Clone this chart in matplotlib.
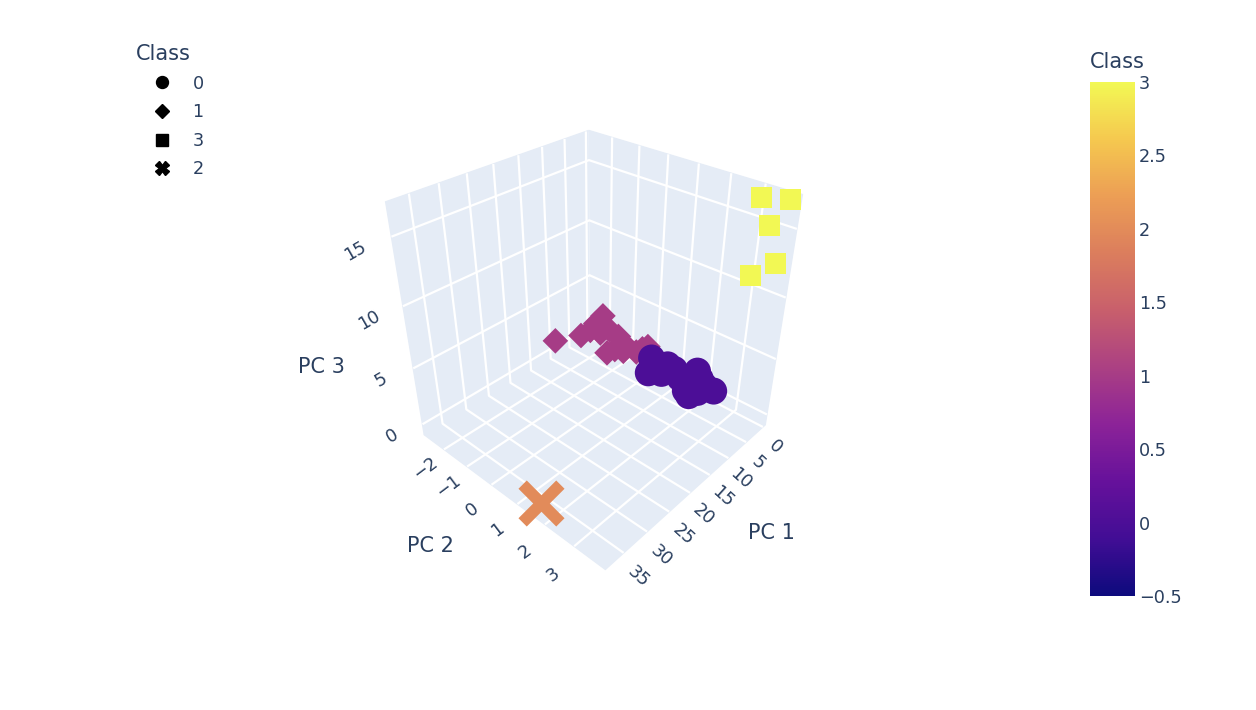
import matplotlib
matplotlib.use("Agg")
import matplotlib.pyplot as plt
from matplotlib.colors import LinearSegmentedColormap, Normalize
from matplotlib.cm import ScalarMappable
from matplotlib.lines import Line2D

# PC1, PC2, PC3 for each class
pc1_0 = [1.4, 5.2, 1.1, 3.8, 2.7, 2.4, 0.1, 1.8, 5.6, 4.9, 2.3, 1.4, 1.9, 1.6, 3.9, 0.5]
pc2_0 = [0.06, 0.47, 0.65, 0.78, 1.33, 1.79, 1.63, 2.44, 2.03, 1.82, 0.38, 0.95, 1.53, 2.07, 2.13, 1.79]
pc3_0 = [0.7, 0.7, 0.7, 0.7, 0.7, 0.7, 1.1, 0.7, 0.7, 0.7, 0.7, 0.7, 0.7, 0.7, 0.7, 0.7]
pc1_1 = [10.0, 0.5, 5.6, 0.8, 0.7, 1.2, 2.6, 1.3, 0.1, 4.8, 6.5, 2.6, 2.8, 4.2, 3.2]
pc2_1 = [-2.65, -2.12, -2.26, -2.39, -1.8, -1.34, -0.79, -0.33, -0.28, -0.94, -1.0, -1.9, -0.36, -0.68, -2.24]
pc3_1 = [1.1, 2.1, 1.1, 1.1, 1.1, 1.1, 1.1, 1.1, 1.1, 1.1, 1.1, 1.1, 1.1, 1.1, 1.1]
pc1_2 = [37.5]
pc2_2 = [1.67]
pc3_2 = [-0.1]
pc1_3 = [1.0, 0.5, 1.0, 1.5, 3.0]
pc2_3 = [3.1, 3.83, 3.42, 3.76, 3.27]
pc3_3 = [16.7, 17.0, 15.05, 12.7, 11.65]

xticks = [0, 5, 10, 15, 20, 25, 30, 35]
yticks = [-2, -1, 0, 1, 2, 3]
zticks = [0, 5, 10, 15]
cbar_ticks = [-0.5, 0, 0.5, 1, 1.5, 2, 2.5, 3]
cbar_labels = ["\u22120.5", "0", "0.5", "1", "1.5", "2", "2.5", "3"]

plasma = ["#0d0b7d", "#420d95", "#66119b", "#8c2398", "#ab4083",
          "#c85f6c", "#db7d5d", "#ec9e55", "#f5c84f", "#f2f854"]
cmap = LinearSegmentedColormap.from_list("plasma_px", plasma)
norm = Normalize(-0.5, 3)
txt = "#2a3f5f"
W, H = 1256, 710

# thin cross like the one plotly draws
a = 0.36
x_marker = [(1, 1 - a), (1 - a, 1), (0, a), (a - 1, 1), (-1, 1 - a), (-a, 0),
            (-1, a - 1), (a - 1, -1), (0, -a), (1 - a, -1), (1, a - 1), (a, 0)]

fig = plt.figure(figsize=(W / 100, H / 100), dpi=100)
ax = fig.add_axes([0.0, 0.028, 0.934, 1.0], projection="3d")
ax.set_proj_type("persp", focal_length=0.194)
ax.view_init(elev=33, azim=42.5)
ax.set_box_aspect((1, 1, 1.03), zoom=0.635)
ax.patch.set_alpha(0)
ax.computed_zorder = False

ax.set_xlim(-0.7, 38.7, view_margin=0)
ax.set_ylim(-2.9, 4.0, view_margin=0)
ax.set_zlim(-1.0, 17.3, view_margin=0)
ax.set_xticks(xticks)
ax.set_yticks(yticks)
ax.set_zticks(zticks)

for axis in (ax.xaxis, ax.yaxis, ax.zaxis):
    axis.set_pane_color("#e5ecf6")
    axis.pane.set_edgecolor("#e5ecf6")
    axis.line.set_color((1, 1, 1, 0))
    axis._axinfo["grid"].update(color="white", linewidth=1.6)
    axis._axinfo["tick"].update(inward_factor=0, outward_factor=0)

ax.tick_params(axis="x", labelsize=12.7, labelcolor=txt, color=(0, 0, 0, 0), labelrotation=-42, pad=10)
ax.tick_params(axis="y", labelsize=12.7, labelcolor=txt, color=(0, 0, 0, 0), labelrotation=37, pad=20)
ax.tick_params(axis="z", labelsize=12.7, labelcolor=txt, color=(0, 0, 0, 0), labelrotation=30, pad=15)
for lbl in ax.get_xticklabels():
    lbl.set_va("center")
for lbl in ax.get_yticklabels():
    lbl.set_va("bottom")

ax.scatter(pc1_1, pc2_1, pc3_1, c=[1] * len(pc1_1), cmap=cmap, norm=norm, marker="D", s=170, linewidths=0, depthshade=False, zorder=2)
ax.scatter(pc1_0, pc2_0, pc3_0, c=[0] * len(pc1_0), cmap=cmap, norm=norm, marker="o", s=378, linewidths=0, depthshade=False, zorder=3)
ax.scatter(pc1_3, pc2_3, pc3_3, c=[3] * len(pc1_3), cmap=cmap, norm=norm, marker="s", s=227, linewidths=0, depthshade=False, zorder=4)
ax.scatter(pc1_2, pc2_2, pc3_2, c=[2] * len(pc1_2), cmap=cmap, norm=norm, marker=x_marker, s=1100, linewidths=0, depthshade=False, zorder=5)

fig.text(298 / W, 1 - 367 / H, "PC 3", fontsize=15, color=txt, va="center")
fig.text(407 / W, 1 - 546 / H, "PC 2", fontsize=15, color=txt, va="center")
fig.text(748 / W, 1 - 533 / H, "PC 1", fontsize=15, color=txt, va="center")

# legend
handles = [Line2D([], [], linestyle="none", color="black", marker=m, markersize=s)
           for m, s in [("o", 8.6), ("D", 7.6), ("s", 8.6), ("X", 9.4)]]
leg = fig.legend(handles, ["0", "1", "3", "2"], title="Class", frameon=False, loc="upper left",
                 bbox_to_anchor=(136 / W, 1 - 44 / H), fontsize=12.7, title_fontsize=15,
                 labelcolor=txt, borderpad=0, borderaxespad=0, labelspacing=0.6,
                 handlelength=3.0, handletextpad=0.2)
leg.get_title().set_color(txt)
leg._legend_box.align = "left"

# colour bar
cax = fig.add_axes([1090 / W, 1 - 596 / H, 45 / W, 514 / H])
cb = fig.colorbar(ScalarMappable(norm=norm, cmap=cmap), cax=cax)
cb.set_ticks(cbar_ticks, labels=cbar_labels)
cb.ax.tick_params(length=0, labelsize=12.7, labelcolor=txt, pad=3)
cb.outline.set_visible(False)
cax.set_title("Class", fontsize=15, color=txt, loc="left", pad=10)

fig.savefig("out.png", dpi=100)
